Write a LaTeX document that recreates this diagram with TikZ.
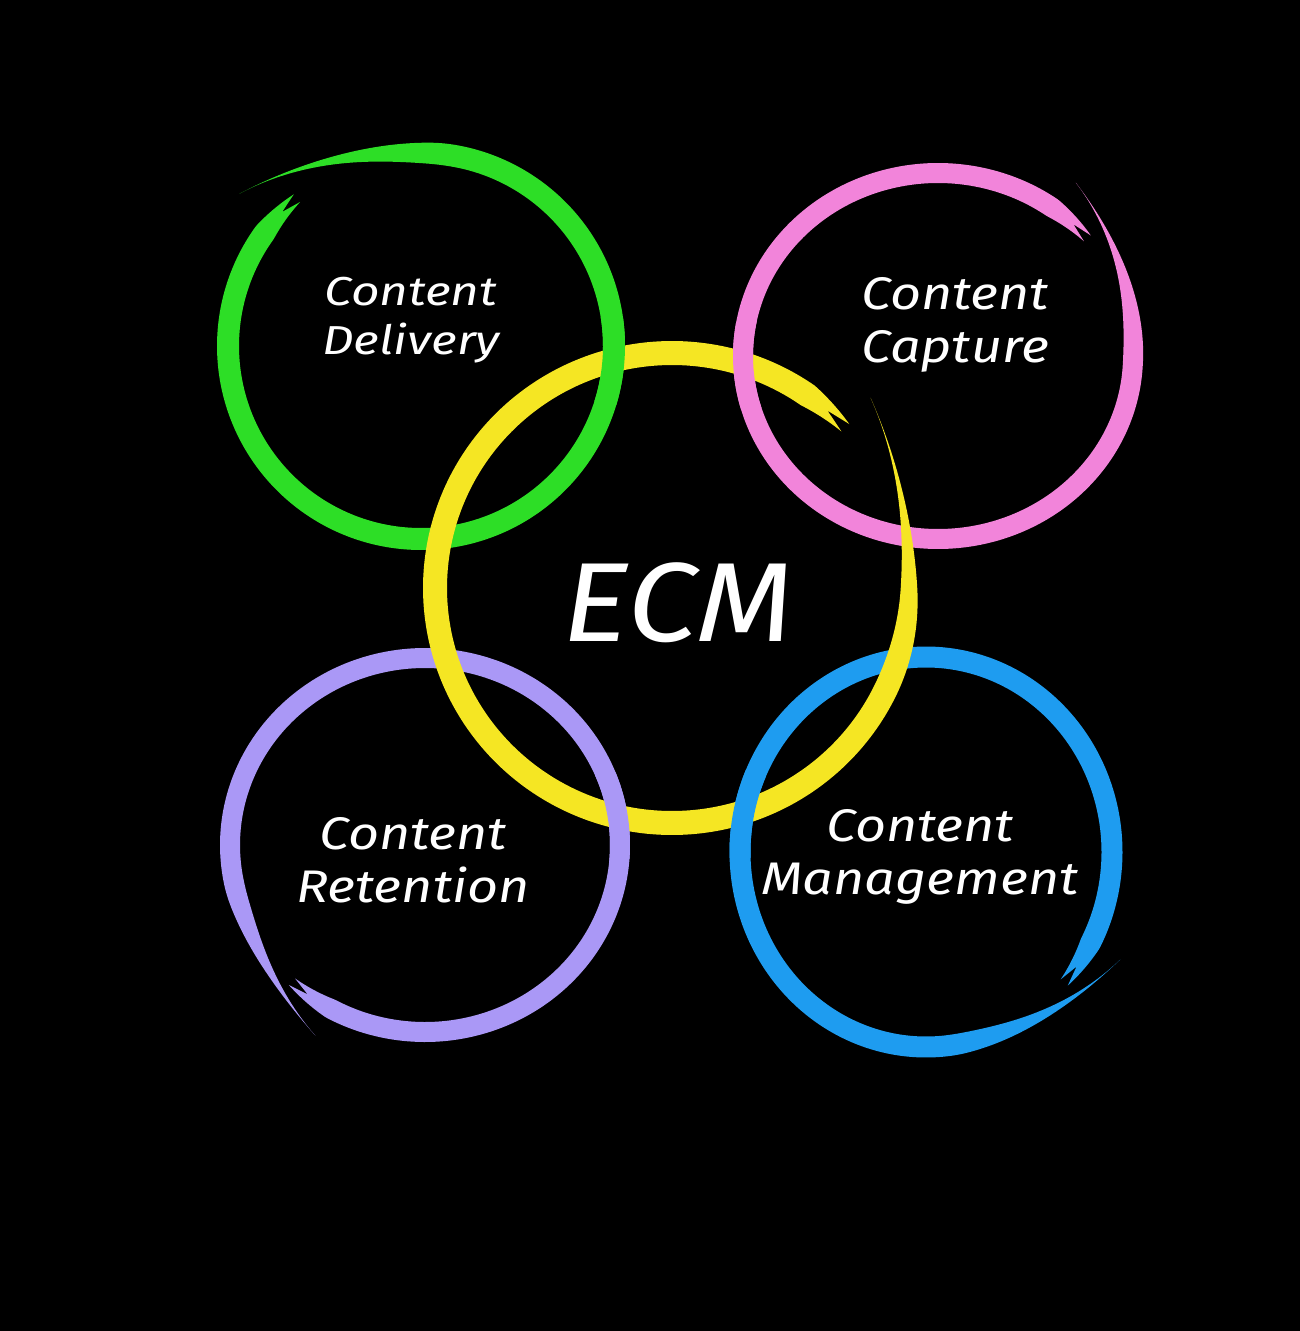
\documentclass[tikz,border=0pt]{standalone}
\usepackage{fontspec}
\setmainfont{Fira Sans}
\definecolor{ringgreen}{RGB}{45,222,38}
\definecolor{ringpink}{RGB}{242,132,218}
\definecolor{ringyellow}{RGB}{245,230,35}
\definecolor{ringpurple}{RGB}{170,152,246}
\definecolor{ringblue}{RGB}{30,156,240}
% #1 cx, #2 cy, #3 rx, #4 ry, #5 start angle, #6 join angle, #7 end angle,
% #8 radial offset of the tail tip, #9 colour; width \RW, start taper \TS, end taper \TE
\newcommand\handring[9]{%
  \begin{scope}[declare function={
      uu(\t)=max(0,(#6-\t)/(#6-#5));
      dd(\t)=#8*uu(\t)*uu(\t);
      aa(\t)=min(1,(\t-#5)/\TS);
      ss(\t)=aa(\t)*aa(\t)*(3-2*aa(\t));
      ww(\t)=\RW*min(ss(\t),0.45+0.55*min(1,(#7-\t)/\TE));
    }]
    \fill[#9] plot[domain=#5:#7,samples=360]
        ({#1+(#3+dd(\x)+ww(\x)/2)*cos(\x)},{#2+(#4+dd(\x)+ww(\x)/2)*sin(\x)})
      -- ({#1+(#3)*cos(#7-6)},{#2+(#4)*sin(#7-6)})
      -- plot[domain=#7:#5,samples=360]
        ({#1+(#3+dd(\x)-ww(\x)/2)*cos(\x)},{#2+(#4+dd(\x)-ww(\x)/2)*sin(\x)})
      -- cycle;
  \end{scope}}
\newcommand\greenring{\def\RW{22}\def\TS{60}\def\TE{14}%
  \handring{421}{346}{193}{193}{220}{272}{590}{44}{ringgreen}}
\newcommand\pinkring{\def\RW{20}\def\TS{55}\def\TE{14}%
  \handring{938}{356}{195}{183}{307}{364}{680}{34}{ringpink}}
\newcommand\purplering{\def\RW{20}\def\TS{50}\def\TE{14}%
  \handring{425}{845}{195}{187}{119}{162}{493}{31}{ringpurple}}
\newcommand\bluering{\def\RW{21}\def\TS{55}\def\TE{14}%
  \handring{926}{852}{186}{195}{28}{78}{402}{34}{ringblue}}
\newcommand\yellowring{\def\RW{24}\def\TS{70}\def\TE{12}%
  \handring{672}{588}{237}{235}{316}{360}{677}{39}{ringyellow}}
\tikzset{
  lbl/.style={text=white, align=center, inner sep=0pt, xscale=1.18,
    font=\fontsize{26}{30}\selectfont\itshape},
  lblsmall/.style={lbl, xscale=1.04, font=\fontsize{23}{28}\selectfont\itshape},
  bigtitle/.style={text=white, inner sep=0pt, xscale=1.12,
    font=\fontsize{64}{66}\selectfont\itshape}
}
\begin{document}
\begin{tikzpicture}[x=0.02cm,y=-0.02cm]
\fill[black] (0,0) rectangle (1300,1331);
\useasboundingbox (0,0) rectangle (1300,1331);

% outer rings, then the centre ring over them
\greenring
\pinkring
\purplering
\bluering
\yellowring
% crossings where the outer ring lies on top of the yellow one
\begin{scope}\clip (613,360) circle[radius=45]; \greenring\end{scope}
\begin{scope}\clip (749,365) circle[radius=45]; \pinkring\end{scope}
\begin{scope}\clip (614,817) circle[radius=45]; \purplering\end{scope}
\begin{scope}\clip (740,814) circle[radius=45]; \bluering\end{scope}

\node[lblsmall] (delivery) at (411,320) {Content\\Delivery};
\node[lbl] (capture) at (955,325) {Content\\Capture};
\node[bigtitle] (ecm) at (678,603) {ECM};
\node[lbl] (retention) at (413,860) {Content\\Retention};
\node[lbl] (management) at (920,857) {Content\\Management};
\end{tikzpicture}
\end{document}
